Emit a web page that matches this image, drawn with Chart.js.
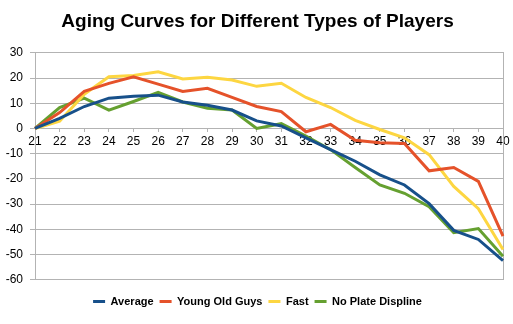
<!DOCTYPE html>
<html>
<head>
<meta charset="utf-8">
<script src="https://cdn.jsdelivr.net/npm/chart.js@4/dist/chart.umd.min.js"></script>
<style>
  html, body { margin: 0; padding: 0; background: #fff; }
  #wrap { width: 513px; height: 324px; }
</style>
</head>
<body>
<div id="wrap"><canvas id="agingChart"></canvas></div>
<script>
const AGES = ["21", "22", "23", "24", "25", "26", "27", "28", "29", "30",
              "31", "32", "33", "34", "35", "36", "37", "38", "39", "40"];
const AVERAGE = [0, 4, 8.7, 12, 12.8, 13.2, 10.5, 9.2, 7.3, 3,
                 1, -3.7, -8.4, -13, -18.4, -22.4, -29.8, -40.4, -44, -52.4];
const YOUNG_OLD_GUYS = [0, 6.3, 14.7, 17.9, 20.5, 17.6, 14.7, 15.9, 12.3, 8.7,
                        6.7, -1.3, 1.6, -4.7, -5.7, -6, -16.8, -15.5, -21, -42.7];
const FAST = [0, 2.9, 13.6, 20.5, 21, 22.5, 19.6, 20.3, 19.2, 16.7,
              17.9, 12.3, 8.3, 3.2, -0.4, -3.7, -10.4, -23, -31.8, -48];
const NO_PLATE = [0, 8.3, 12, 7.3, 10.7, 14.3, 10.5, 8, 7.3, 0,
                  1.9, -3, -8.4, -15.5, -22.4, -25.7, -31, -41.3, -39.7, -50.7];
const Y_TICKS = { min: -60, max: 30, step: 10 };

const GRID = "#b3b3b3";
const FONT = "'Liberation Sans', Arial, sans-serif";

function makeSeries(label, data, color) {
    return {
        label: label,
        data: data,
        borderColor: color,
        backgroundColor: color,
        borderWidth: 3,
        pointRadius: 0,
        pointStyle: "line",
        tension: 0
    };
}

const ctx = document.getElementById("agingChart").getContext("2d");
const agingChart = new Chart(ctx, {
    type: "line",
    data: {
        labels: AGES,
        datasets: [
            makeSeries("Average", AVERAGE, "#17508a"),
            makeSeries("Young Old Guys", YOUNG_OLD_GUYS, "#e5522a"),
            makeSeries("Fast", FAST, "#fdd641"),
            makeSeries("No Plate Displine", NO_PLATE, "#65a030")
        ]
    },
    options: {
        responsive: true,
        maintainAspectRatio: false,
        animation: false,
        layout: { padding: { left: 6, right: 4, top: 0, bottom: 7 } },
        scales: {
            x: {
                position: { y: 0 },
                offset: false,
                grid: { display: true, drawOnChartArea: false, color: GRID, tickLength: 4 },
                border: { display: false },
                ticks: { color: "#000", font: { family: FONT, size: 12 }, maxRotation: 0, autoSkip: false, padding: 2 }
            },
            y: {
                min: Y_TICKS.min,
                max: Y_TICKS.max,
                ticks: { stepSize: Y_TICKS.step, color: "#000", font: { family: FONT, size: 12 }, padding: 7 },
                grid: { color: GRID, tickLength: 5, lineWidth: 1 },
                border: { color: GRID },
                afterFit: function (scale) { scale.width = 29; }
            },
            y2: {
                position: "right",
                min: Y_TICKS.min,
                max: Y_TICKS.max,
                ticks: { display: false },
                grid: { drawOnChartArea: false, drawTicks: false },
                border: { color: GRID },
                afterFit: function (scale) { scale.width = 6; }
            }
        },
        plugins: {
            title: {
                display: true,
                text: "Aging Curves for Different Types of Players",
                color: "#000",
                font: { family: FONT, size: 19, weight: "bold" },
                padding: { top: 10, bottom: 20 }
            },
            legend: {
                position: "bottom",
                title: { display: true, text: "", font: { size: 1 }, padding: { top: 0, bottom: 9 } },
                labels: {
                    usePointStyle: true,
                    pointStyleWidth: 12,
                    boxHeight: 11,
                    padding: 6,
                    color: "#000",
                    font: { family: FONT, size: 11, weight: "bold" }
                }
            },
            tooltip: { enabled: false }
        }
    }
});
</script>
</body>
</html>
